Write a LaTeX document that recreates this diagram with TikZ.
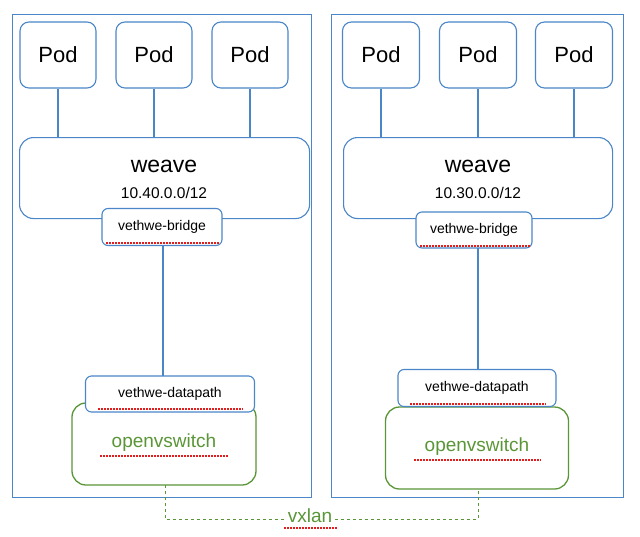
\documentclass[tikz,border=0pt]{standalone}
\usepackage{fontspec}
\setmainfont{Liberation Sans}
\begin{document}
\begin{tikzpicture}[x=1pt,y=-1pt]
\useasboundingbox (0,0) rectangle (640,536);
\definecolor{bl}{RGB}{74,134,200}
\definecolor{gr}{RGB}{90,150,55}
\definecolor{sqc}{RGB}{225,30,30}
\tikzset{bl/.style={draw=bl, line width=1.1pt},
  box/.style={bl, rounded corners=9pt, fill=white, inner sep=0pt},
  gbox/.style={draw=gr, line width=1.3pt, rounded corners=14pt, fill=white, inner sep=0pt},
  sq/.style={draw=sqc, dash pattern=on 1.5pt off 1.5pt, line width=1.6pt},
  vt/.style={font=\fontsize{14}{16}\selectfont}}
% outer
\node[bl, minimum width=299, minimum height=483, anchor=north west, inner sep=0pt] (L) at (12,14) {};
\node[bl, minimum width=292, minimum height=483, anchor=north west, inner sep=0pt] (R) at (331,14) {};
% left
\foreach \n/\x in {a/58,b/154,c/250}{
 \node[box, minimum width=76, minimum height=66, font=\fontsize{22}{24}\selectfont] (lp\n) at (\x,55) {Pod};}
\node[box, minimum width=290, minimum height=81, anchor=north west, rounded corners=14pt] (lw) at (19,137) {};
\node[font=\fontsize{23}{26}\selectfont] (lwt) at (164,166) {weave};
\node[font=\fontsize{15.5}{18}\selectfont] (lwi) at (164,193) {10.40.0.0/12};
\foreach \n/\x in {a/58,b/154,c/250} \draw[bl] (lp\n.south) -- (lp\n.south |- lw.north);
\node[box, vt, rounded corners=6pt, minimum width=120, minimum height=37] (lb) at (162,227) {vethwe-bridge};
\node[gbox, minimum width=184, minimum height=82] (lo) at (164,444) {};
\node[text=gr, font=\fontsize{19}{22}\selectfont] (lot) at (164,443) {openvswitch};
\node[box, vt, rounded corners=6pt, minimum width=169, minimum height=36] (ld) at (170,394) {vethwe-datapath};
\coordinate (lbx) at (163,246); \coordinate (ldx) at (163,376);
\draw[bl] (lbx) -- (ldx);
% right
\foreach \n/\x in {a/381,b/478,c/574}{
 \node[box, minimum width=77, minimum height=66, font=\fontsize{22}{24}\selectfont] (rp\n) at (\x,55) {Pod};}
\node[box, minimum width=269, minimum height=81, anchor=north west, rounded corners=14pt] (rw) at (343,137) {};
\node[font=\fontsize{23}{26}\selectfont] (rwt) at (478,166) {weave};
\node[font=\fontsize{15.5}{18}\selectfont] (rwi) at (478,193) {10.30.0.0/12};
\foreach \n in {a,b,c} \draw[bl] (rp\n.south) -- (rp\n.south |- rw.north);
\node[box, vt, rounded corners=6pt, minimum width=116, minimum height=36] (rb) at (474,230) {vethwe-bridge};
\node[gbox, minimum width=183, minimum height=82] (ro) at (477,448) {};
\node[text=gr, font=\fontsize{19}{22}\selectfont] (rot) at (477,447) {openvswitch};
\node[box, vt, rounded corners=6pt, minimum width=158, minimum height=37] (rd) at (477,388) {vethwe-datapath};
\coordinate (rbx) at (478,248); \coordinate (rdx) at (478,370);
\draw[bl] (rbx) -- (rdx);
% vxlan
\coordinate (v1) at (165,485); \coordinate (v2) at (478,489);
\draw[gr, dashed, line width=1pt] (v1) -- (165,519) -- (478,519) -- (v2);
\node[fill=white, inner sep=1pt, text=gr, font=\fontsize{19}{22}\selectfont] (vx) at (310,516) {vxlan};
% squiggles
\draw[sq] (106,243) -- (219,243);
\draw[sq] (420,246) -- (530,246);
\draw[sq] (98,409) -- (243,409);
\draw[sq] (410,404) -- (546,404);
\draw[sq] (100,456) -- (228,456);
\draw[sq] (414,460) -- (541,460);
\draw[sq] (284,528) -- (337,528);
\end{tikzpicture}
\end{document}
